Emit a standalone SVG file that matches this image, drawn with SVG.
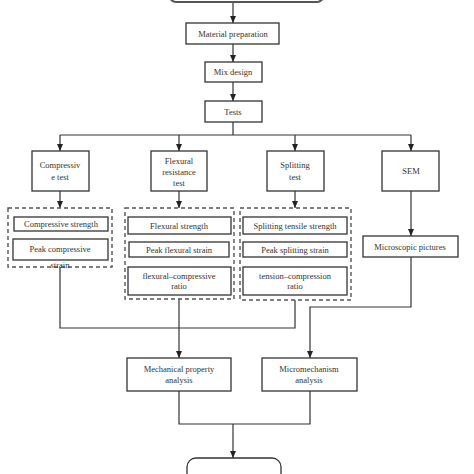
<svg xmlns="http://www.w3.org/2000/svg" width="474" height="474" viewBox="0 0 474 474">
<style>
.box{fill:#fff;stroke:#333;stroke-width:1.3}
.dash{fill:none;stroke:#555;stroke-width:1.4;stroke-dasharray:4 3}
.ln{fill:none;stroke:#333;stroke-width:1.2}
text{font-family:"Liberation Serif","Times New Roman",serif;font-size:8.5px;fill:#333;text-anchor:middle}
</style>
<defs>
<marker id="ah" markerWidth="8" markerHeight="8" refX="7" refY="4" orient="auto" markerUnits="userSpaceOnUse">
<path d="M0,1 L7,4 L0,7 Z" fill="#222"/>
</marker>
</defs>
<rect width="474" height="474" fill="#fff"/>
<g id="connectors">
<path class="ln" d="M233,2 V23" marker-end="url(#ah)"/>
<path class="ln" d="M233,44 V62" marker-end="url(#ah)"/>
<path class="ln" d="M233,82 V101" marker-end="url(#ah)"/>
<path class="ln" d="M233,122 V135 M60,135 H411"/>
<path class="ln" d="M60,135 V151" marker-end="url(#ah)"/>
<path class="ln" d="M179,135 V151" marker-end="url(#ah)"/>
<path class="ln" d="M295,135 V151" marker-end="url(#ah)"/>
<path class="ln" d="M411,135 V151" marker-end="url(#ah)"/>
<path class="ln" d="M60,191 V208" marker-end="url(#ah)"/>
<path class="ln" d="M179,191 V208" marker-end="url(#ah)"/>
<path class="ln" d="M295,191 V208" marker-end="url(#ah)"/>
<path class="ln" d="M411,191 V236" marker-end="url(#ah)"/>
<path class="ln" d="M60,267 V328 H295 V300"/>
<path class="ln" d="M179,299 V358" marker-end="url(#ah)"/>
<path class="ln" d="M411,257 V307 H310 V358" marker-end="url(#ah)"/>
<path class="ln" d="M179,391 V424 H310 V391"/>
<path class="ln" d="M233,424 V458" marker-end="url(#ah)"/>
</g>
<g id="top"><rect x="170" y="-20" width="153" height="22" rx="6" fill="#fff" stroke="#555" stroke-width="2.2"/></g>
<g id="material"><rect class="box" x="186" y="23" width="93" height="21"/><text x="233" y="36.5">Material preparation</text></g>
<g id="mix"><rect class="box" x="205" y="62" width="57" height="20"/><text x="233" y="75">Mix design</text></g>
<g id="tests"><rect class="box" x="205" y="101" width="57" height="21"/><text x="233" y="114.5">Tests</text></g>
<g id="compressive"><rect class="box" x="32" y="151" width="57" height="40"/><text x="60" y="168">Compressiv</text><text x="60" y="180">e test</text></g>
<g id="flexural"><rect class="box" x="151" y="151" width="56" height="40"/><text x="179" y="164">Flexural</text><text x="179" y="175">resistance</text><text x="179" y="185.5">test</text></g>
<g id="splitting"><rect class="box" x="267" y="151" width="57" height="40"/><text x="295" y="168">Splitting</text><text x="295" y="180">test</text></g>
<g id="sem"><rect class="box" x="382" y="151" width="57" height="40"/><text x="411" y="174">SEM</text></g>
<g id="group1"><rect class="dash" x="8" y="208" width="104" height="59"/>
<rect class="box" x="14" y="217" width="94" height="14"/><text x="61" y="227">Compressive strength</text>
<rect class="box" x="13" y="239" width="95" height="21"/><text x="60" y="252">Peak compressive</text><text x="60" y="267.5">strain</text></g>
<g id="group2"><rect class="dash" x="125" y="208" width="109" height="91"/>
<rect class="box" x="128" y="217" width="103" height="17"/><text x="179" y="228.5">Flexural strength</text>
<rect class="box" x="129" y="242" width="100" height="15"/><text x="179" y="252.5">Peak flexural  strain</text>
<rect class="box" x="128" y="267" width="103" height="28"/><text x="179" y="279">flexural–compressive</text><text x="179" y="289">ratio</text></g>
<g id="group3"><rect class="dash" x="240" y="208" width="111" height="92"/>
<rect class="box" x="243" y="217" width="104" height="17"/><text x="295" y="228.5">Splitting tensile strength</text>
<rect class="box" x="243" y="242" width="104" height="15"/><text x="295" y="252.5">Peak splitting  strain</text>
<rect class="box" x="243" y="267" width="104" height="28"/><text x="295" y="279">tension–compression</text><text x="295" y="289">ratio</text></g>
<g id="micro"><rect class="box" x="363" y="236" width="95" height="21"/><text x="410" y="249.5">Microscopic pictures</text></g>
<g id="mechanical"><rect class="box" x="127" y="358" width="104" height="33"/><text x="179" y="372">Mechanical property</text><text x="179" y="383">analysis</text></g>
<g id="micromech"><rect class="box" x="262" y="358" width="95" height="33"/><text x="309" y="372">Micromechanism</text><text x="309" y="383">analysis</text></g>
<g id="bottom"><rect x="187" y="458" width="94" height="40" rx="9" fill="#fff" stroke="#333" stroke-width="1.3"/></g>
</svg>
